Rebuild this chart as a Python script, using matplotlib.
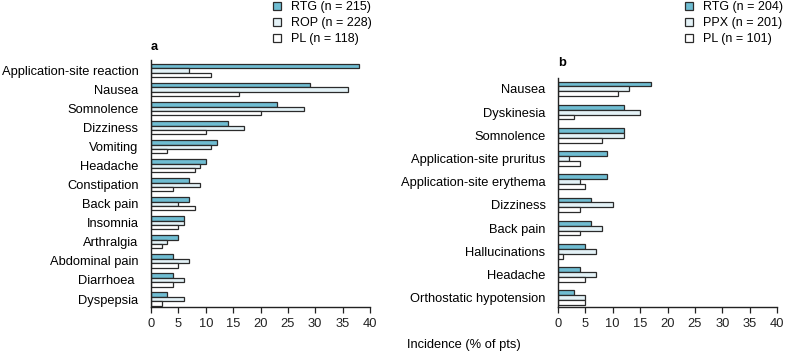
import numpy as np
import matplotlib.pyplot as plt

plt.rcParams['font.family'] = ['Liberation Sans', 'DejaVu Sans']

# Panel a
cats_a = ['Application-site reaction', 'Nausea', 'Somnolence', 'Dizziness',
          'Vomiting', 'Headache', 'Constipation', 'Back pain', 'Insomnia',
          'Arthralgia', 'Abdominal pain', 'Diarrhoea ', 'Dyspepsia']
rtg_a = [38, 29, 23, 14, 12, 10, 7, 7, 6, 5, 4, 4, 3]
rop_a = [7, 36, 28, 17, 11, 9, 9, 5, 6, 3, 7, 6, 6]
pl_a = [11, 16, 20, 10, 3, 8, 4, 8, 5, 2, 5, 4, 2]
labels_a = ['RTG (n = 215)', 'ROP (n = 228)', 'PL (n = 118)']

# Panel b
cats_b = ['Nausea', 'Dyskinesia', 'Somnolence', 'Application-site pruritus',
          'Application-site erythema', 'Dizziness', 'Back pain',
          'Hallucinations', 'Headache', 'Orthostatic hypotension']
rtg_b = [17, 12, 12, 9, 9, 6, 6, 5, 4, 3]
ppx_b = [13, 15, 12, 2, 4, 10, 8, 7, 7, 5]
pl_b = [11, 3, 8, 4, 5, 4, 4, 1, 5, 5]
labels_b = ['RTG (n = 204)', 'PPX (n = 201)', 'PL (n = 101)']

colors = ['#6fbdd2', '#e4f2f7', '#ffffff']
edge = '#2b2b2b'
fs = 9.3

fig = plt.figure(figsize=(7.85, 3.53), dpi=100)
ax1 = fig.add_axes([151/785, 1 - 307/353, 219/785, 247/353])
ax2 = fig.add_axes([558/785, 1 - 307/353, 219/785, 229/353])


def panel(ax, cats, series, labels, h, top, bottom, letter, ly):
    y = np.arange(len(cats))
    bars = []
    for k, vals in enumerate(series):
        b = ax.barh(y + (k - 1) * h, vals, height=h, color=colors[k],
                    edgecolor=edge, linewidth=0.9, label=labels[k])
        bars.append(b)
    ax.set_yticks(y)
    ax.set_yticklabels(cats, fontsize=fs)
    ax.set_ylim(len(cats) - 1 + bottom, -top)
    ax.set_xlim(0, 40)
    ax.set_xticks(np.arange(0, 41, 5))
    ax.tick_params(axis='x', labelsize=fs, length=4, width=0.9, pad=4,
                   colors='#222222')
    ax.tick_params(axis='y', length=0, pad=9)
    for s in ['top', 'right']:
        ax.spines[s].set_visible(False)
    for s in ['left', 'bottom']:
        ax.spines[s].set_linewidth(1.0)
        ax.spines[s].set_color('#222222')
    ax.text(0, ly, letter, transform=ax.transAxes, fontsize=fs,
            fontweight='bold', ha='left', va='bottom')
    return bars


b1 = panel(ax1, cats_a, [rtg_a, rop_a, pl_a], labels_a, 0.23, 0.56, 0.42,
           'a', 1.03)
b2 = panel(ax2, cats_b, [rtg_b, ppx_b, pl_b], labels_b, 0.21, 0.47, 0.40,
           'b', 1.04)

for bars, labs, x0 in [(b1, labels_a, 263/785), (b2, labels_b, 675/785)]:
    fig.legend(bars, labs, loc='upper left', bbox_to_anchor=(x0, 1.025),
               frameon=False, fontsize=9.0, handlelength=0.65,
               handleheight=0.65, handletextpad=0.8, labelspacing=0.32,
               borderpad=0.3)

fig.text(407/785, 1 - 345/353, 'Incidence (% of pts)', fontsize=fs,
         ha='left', va='center')

fig.savefig('out.png', dpi=100)
